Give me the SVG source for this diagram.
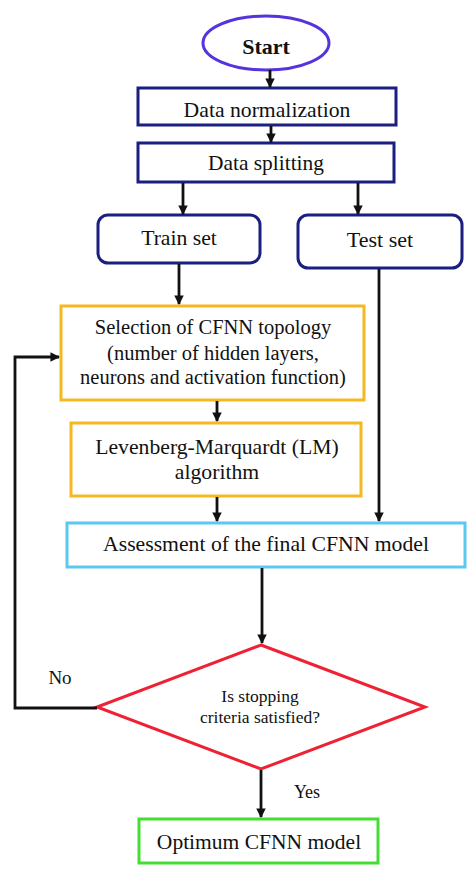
<svg xmlns="http://www.w3.org/2000/svg" width="474" height="877" viewBox="0 0 474 877">
<style>
text{fill:#111;text-anchor:middle}
.t{font-size:21.7px}
.m{font-size:20.5px}
.s{font-size:17.5px}
.navy{fill:#fff;stroke:#1a1f80;stroke-width:3}
.org{fill:#fff;stroke:#f5b820;stroke-width:3}
.conn{fill:none;stroke:#111;stroke-width:2.8}
</style>
<defs>
<marker id="ah" viewBox="0 0 10 10" refX="9" refY="5" markerWidth="3.4" markerHeight="3.4" markerUnits="strokeWidth" orient="auto">
<path d="M0,0 L10,5 L0,10 z" fill="#111"/>
</marker>
</defs>
<rect width="474" height="877" fill="#fff"/>
<g font-family="'Liberation Serif', 'Times New Roman', 'DejaVu Serif', serif">
<g id="start">
<ellipse cx="266" cy="43" rx="63" ry="27" fill="#fff" stroke="#5533dd" stroke-width="3"/>
<text x="266" y="54" font-weight="bold" font-size="22">Start</text>
</g>
<g id="norm">
<rect class="navy" x="138" y="88" width="258" height="37"/>
<text class="t" x="267" y="117">Data normalization</text>
</g>
<g id="split">
<rect class="navy" x="138" y="143" width="256" height="39"/>
<text x="266" y="170" font-size="21.4">Data splitting</text>
</g>
<g id="train">
<rect class="navy" x="98" y="215" width="162" height="48" rx="10"/>
<text class="t" x="179" y="245">Train set</text>
</g>
<g id="test">
<rect class="navy" x="298" y="215" width="164" height="53" rx="10"/>
<text x="380" y="247" font-size="22">Test set</text>
</g>
<g id="select">
<rect class="org" x="61" y="306" width="303" height="94"/>
<text class="m" x="213" y="334">Selection of CFNN topology</text>
<text class="m" x="213" y="360">(number of hidden layers,</text>
<text class="m" x="213" y="384">neurons and activation function)</text>
</g>
<g id="lm">
<rect class="org" x="71" y="423" width="290" height="73"/>
<text class="t" x="217" y="454">Levenberg-Marquardt (LM)</text>
<text class="t" x="217" y="479">algorithm</text>
</g>
<g id="assess">
<rect x="67" y="523" width="398" height="44" fill="#fff" stroke="#5cc8f0" stroke-width="3"/>
<text class="t" x="266" y="551">Assessment of the final CFNN model</text>
</g>
<g id="decision">
<polygon points="261,645 425,707 261,769 97,707" fill="#fff" stroke="#ee2233" stroke-width="3"/>
<text class="s" x="260" y="702">Is stopping</text>
<text class="s" x="260" y="723">criteria satisfied?</text>
</g>
<g id="optimum">
<rect x="139" y="819" width="239" height="44" fill="#fff" stroke="#44dd33" stroke-width="3"/>
<text x="259" y="849" font-size="21.5">Optimum CFNN model</text>
</g>
<g id="connectors">
<line class="conn" x1="270" y1="70" x2="270" y2="87" marker-end="url(#ah)"/>
<line class="conn" x1="271" y1="126" x2="271" y2="142" marker-end="url(#ah)"/>
<line class="conn" x1="183" y1="183" x2="183" y2="214" marker-end="url(#ah)"/>
<line class="conn" x1="358" y1="183" x2="358" y2="214" marker-end="url(#ah)"/>
<line class="conn" x1="179" y1="264" x2="179" y2="304" marker-end="url(#ah)"/>
<line class="conn" x1="217" y1="401" x2="217" y2="421" marker-end="url(#ah)"/>
<line class="conn" x1="217" y1="497" x2="217" y2="521" marker-end="url(#ah)"/>
<line class="conn" x1="379" y1="269" x2="379" y2="521" marker-end="url(#ah)"/>
<line class="conn" x1="262" y1="568" x2="262" y2="643" marker-end="url(#ah)"/>
<polyline class="conn" points="97,708 15,708 15,357 59,357" marker-end="url(#ah)"/>
<line class="conn" x1="261" y1="770" x2="261" y2="817" marker-end="url(#ah)"/>
<text x="60" y="684" font-size="19">No</text>
<text x="307" y="798" font-size="18">Yes</text>
</g>
</g>
</svg>
